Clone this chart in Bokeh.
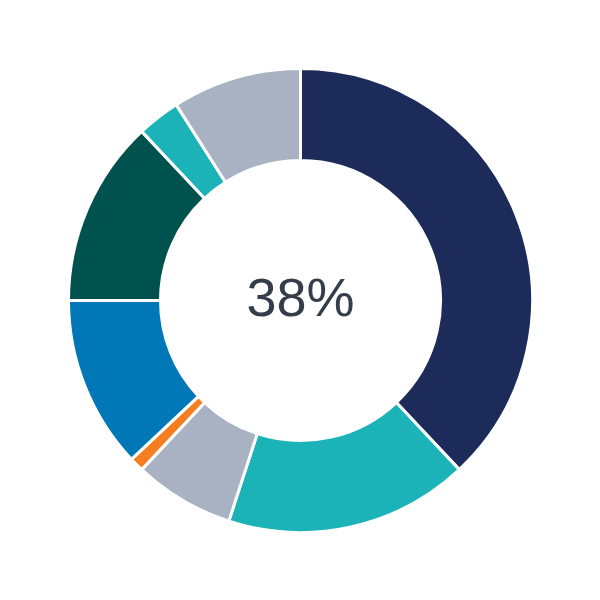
import math
from bokeh.plotting import figure
from bokeh.models import ColumnDataSource, Range1d
from bokeh.core.properties import value
from bokeh.embed import file_html
from bokeh.resources import INLINE

labels = ["A", "B", "C", "D", "E", "F", "G", "H"]
shares = [38, 17, 7, 1, 12, 13, 3, 9]
colors = ["#1c2b5a", "#1cb3b8", "#a8b2c2", "#f47e20", "#0077b6", "#00524f", "#1cb3b8", "#a8b2c2"]
center_label = "38%"

total = sum(shares)
starts, ends = [], []
cum = 0.0
for s in shares:
    a0 = math.pi / 2 - 2 * math.pi * (cum + s) / total
    a1 = math.pi / 2 - 2 * math.pi * cum / total
    starts.append(a0)
    ends.append(a1)
    cum += s

src = ColumnDataSource(dict(label=labels, share=shares, color=colors, start=starts, end=ends))

p = figure(width=600, height=600, output_backend="svg", toolbar_location=None,
           x_range=Range1d(-300, 300), y_range=Range1d(-300, 300), min_border=0)
p.axis.visible = False
p.grid.visible = False
p.outline_line_color = None
p.background_fill_color = "white"
p.border_fill_color = "white"

p.annular_wedge(x=0, y=0, inner_radius=140, outer_radius=232,
                start_angle="start", end_angle="end", direction="anticlock",
                fill_color="color", line_color="white", line_width=3, source=src)

p.text(x=[0], y=[4], text=[center_label], text_align="center", text_baseline="middle",
       text_font=value("Liberation Sans"), text_font_size="54px", text_color="#363d4a")

open("out.html", "w").write(file_html(p, INLINE))
